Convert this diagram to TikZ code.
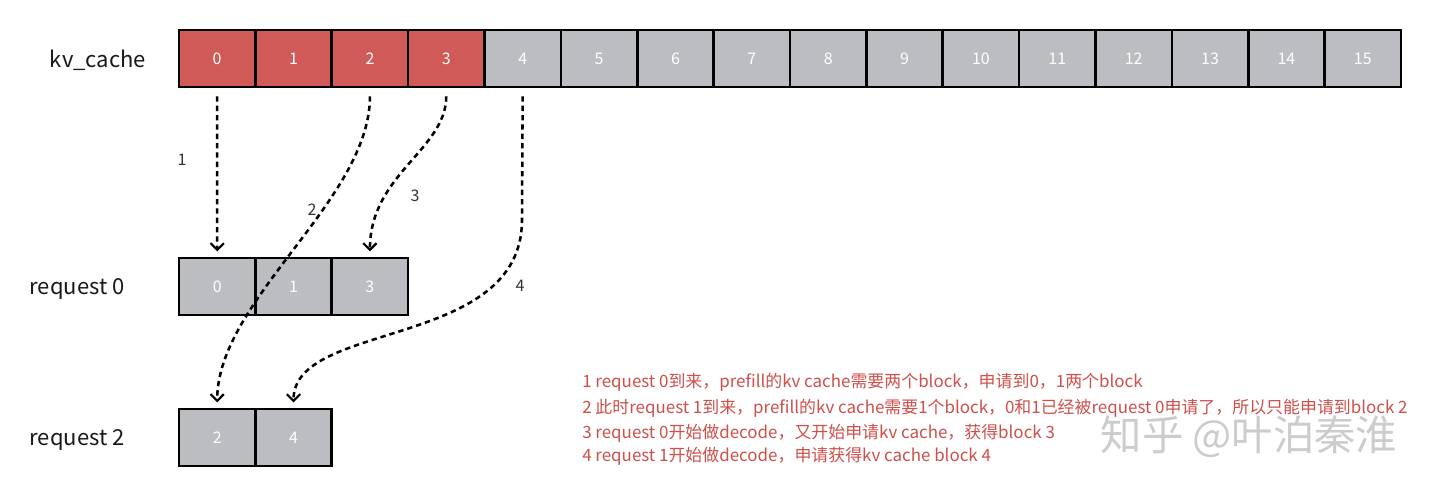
\documentclass[tikz,border=0pt]{standalone}
\usepackage{fontspec}
\setmainfont{Noto Sans CJK SC}
\usetikzlibrary{arrows.meta}
\definecolor{cellred}{HTML}{D05A57}
\definecolor{cellgray}{HTML}{BBBDC1}
\definecolor{notered}{HTML}{CF4F4B}
\definecolor{labelgray}{HTML}{333333}
\tikzset{
  cell/.style={draw=black, line width=2pt, minimum width=57.3pt, minimum height=42.75pt,
    inner sep=0pt, text=white, font=\fontsize{12}{14}\selectfont},
  redcell/.style={cell, fill=cellred},
  graycell/.style={cell, fill=cellgray},
  rowlabel/.style={font=\fontsize{16.5}{20}\selectfont, text=black!90, inner sep=0pt},
  conn/.style={line width=1.9pt, dash pattern=on 4pt off 3pt, -{Straight Barb[length=5pt,width=10pt,line width=1.6pt]},
    shorten <=6pt, shorten >=4pt},
  steplabel/.style={font=\fontsize{12}{14}\selectfont, text=labelgray, inner sep=0pt},
  note/.style={font=\fontsize{12.7}{15}\selectfont, text=notered, anchor=west, inner sep=0pt},
}
\begin{document}
\begin{tikzpicture}[x=0.75pt, y=-0.75pt]
\useasboundingbox (0,0) rectangle (1440,497);
\fill[white] (0,0) rectangle (1440,497);
% watermark
\node[font=\fontsize{31}{35}\selectfont, text=black!20, anchor=center] (wm) at (1249,437) {知乎 @叶泊秦淮};
% kv cache row
\foreach \i in {0,...,15} {
  \pgfmathsetmacro{\cx}{179+76.375*(\i+0.5)}
  \ifnum\i<4
    \node[redcell] (k\i) at (\cx,58.5) {\i};
  \else
    \node[graycell] (k\i) at (\cx,58.5) {\i};
  \fi
}
\node[rowlabel] (lkv) at (98,60) {kv\_cache};
% request 0
\node[graycell] (r0a) at (217.2,286.5) {0};
\node[graycell] (r0b) at (293.6,286.5) {1};
\node[graycell] (r0c) at (369.9,286.5) {3};
\node[rowlabel] (lr0) at (77,289) {request 0};
% request 2
\node[graycell] (r2a) at (217.2,437.5) {2};
\node[graycell] (r2b) at (293.6,437.5) {4};
\node[rowlabel] (lr2) at (77,440) {request 2};
% connectors
\coordinate (bend4) at (522,220);
\draw[conn] (k0.south) -- (r0a.north);
\draw[conn] (k2.south) .. controls (370,200) and (217,300) .. (r2a.north);
\draw[conn] (k3.south) .. controls (446,150) and (370,174) .. (r0c.north);
\draw[conn] (k4.south) -- (bend4) .. controls (522,350) and (293,320) .. (r2b.north);
% step labels
\node[steplabel] (s1) at (182,160) {1};
\node[steplabel] (s2) at (312,210) {2};
\node[steplabel] (s3) at (415,196) {3};
\node[steplabel] (s4) at (520,286) {4};
% notes
\node[note] (n1) at (582,382) {1 request 0到来，prefill的kv cache需要两个block，申请到0，1两个block};
\node[note] (n2) at (582,408) {2 此时request 1到来，prefill的kv cache需要1个block，0和1已经被request 0申请了，所以只能申请到block 2};
\node[note] (n3) at (582,433) {3 request 0开始做decode，又开始申请kv cache，获得block 3};
\node[note] (n4) at (582,456) {4 request 1开始做decode，申请获得kv cache block 4};
\end{tikzpicture}
\end{document}
